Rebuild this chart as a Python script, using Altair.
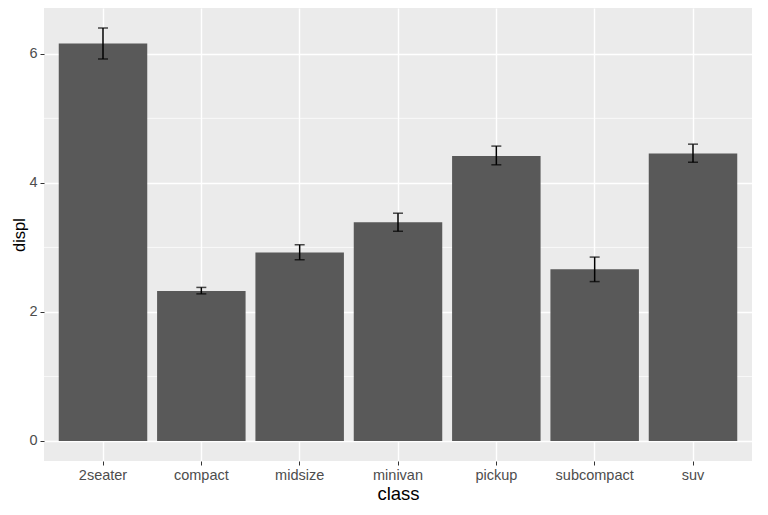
import altair as alt
import pandas as pd

classes = ["2seater", "compact", "midsize", "minivan", "pickup", "subcompact", "suv"]
means = [6.16, 2.326, 2.921, 3.391, 4.418, 2.660, 4.456]
lower = [5.92, 2.28, 2.81, 3.25, 4.28, 2.47, 4.32]
upper = [6.40, 2.38, 3.04, 3.53, 4.57, 2.85, 4.60]
minor_breaks = [1, 3, 5]

df = pd.DataFrame({"class": classes, "displ": means, "lo": lower, "hi": upper})
minor_df = pd.DataFrame({"v": minor_breaks})

font = "Liberation Sans"
yscale = alt.Scale(domain=[-0.31, 6.71], nice=False, zero=False)
xscale = alt.Scale(paddingInner=0.1, paddingOuter=0.15)

xenc = alt.X("class:N", scale=xscale, sort=classes,
             axis=alt.Axis(title="class", bandPosition=0.5, labelAngle=0,
                           grid=True, gridColor="white", gridWidth=1.4,
                           domain=False, tickColor="#333333", tickSize=4, tickWidth=1,
                           labelColor="#4D4D4D", labelFontSize=14.5, labelFont=font,
                           labelPadding=3, titleFont=font, titleFontSize=18.5,
                           titleFontWeight="normal", titleColor="black", titlePadding=3))

minor = alt.Chart(minor_df).mark_rule(color="white", strokeWidth=0.7).encode(
    y=alt.Y("v:Q", scale=yscale)
)

bars = alt.Chart(df).mark_bar(color="#595959").encode(
    x=xenc,
    y=alt.Y("displ:Q", scale=yscale,
            axis=alt.Axis(title="displ", values=[0, 2, 4, 6], format="d", grid=True,
                          gridColor="white", gridWidth=1.4, domain=False,
                          tickColor="#333333", tickSize=4, tickWidth=1,
                          labelColor="#4D4D4D", labelFontSize=14.5,
                          labelFont=font, labelPadding=3, titleFont=font, titleFontSize=16.5,
                          titleFontWeight="normal", titleColor="black", titlePadding=1)),
)

rules = alt.Chart(df).mark_rule(color="black", strokeWidth=1.5).encode(
    x=alt.X("class:N", sort=classes, scale=xscale),
    y=alt.Y("lo:Q", scale=yscale),
    y2="hi:Q",
)

caps_lo = alt.Chart(df).mark_tick(color="black", thickness=1.5, size=10, orient="horizontal").encode(
    x=alt.X("class:N", sort=classes, scale=xscale),
    y=alt.Y("lo:Q", scale=yscale),
)
caps_hi = alt.Chart(df).mark_tick(color="black", thickness=1.5, size=10, orient="horizontal").encode(
    x=alt.X("class:N", sort=classes, scale=xscale),
    y=alt.Y("hi:Q", scale=yscale),
)

chart = alt.layer(minor, bars, rules, caps_lo, caps_hi).properties(
    width=708, height=453,
    autosize=alt.AutoSizeParams(type="none"),
    padding={"left": 36, "top": 0, "right": 0, "bottom": 46},
).configure(background="white").configure_view(fill="#EBEBEB", stroke=None)

chart.save("out.html", embed_options={"renderer": "svg", "actions": False})
